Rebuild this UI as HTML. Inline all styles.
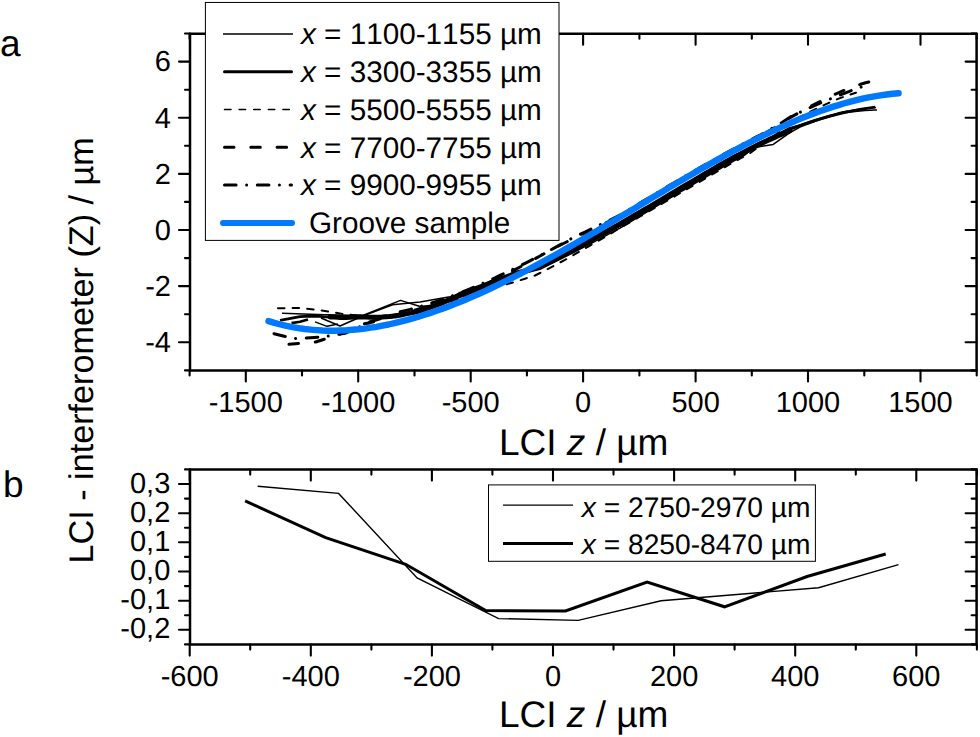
<!DOCTYPE html>
<html><head><meta charset="utf-8"><style>
html,body{margin:0;padding:0;background:#fff;}
svg{display:block;}
.t{stroke-width:2.1px;stroke-linecap:round;}
text{stroke:none;text-rendering:geometricPrecision;font-kerning:none;}
</style></head><body>
<svg width="980" height="737" viewBox="0 0 980 737" font-family="'Liberation Sans', sans-serif">
<g stroke="#000" stroke-width="2.5" fill="#000">
<line x1="189.6" y1="370.5" x2="189.6" y2="375.5" class="t"/>
<line x1="189.6" y1="33.8" x2="189.6" y2="38.8" class="t"/>
<line x1="245.8" y1="370.5" x2="245.8" y2="381.5" class="t"/>
<line x1="245.8" y1="33.8" x2="245.8" y2="44.8" class="t"/>
<text x="245.8" y="412" font-size="29" text-anchor="middle">-1500</text>
<line x1="302.0" y1="370.5" x2="302.0" y2="375.5" class="t"/>
<line x1="302.0" y1="33.8" x2="302.0" y2="38.8" class="t"/>
<line x1="358.2" y1="370.5" x2="358.2" y2="381.5" class="t"/>
<line x1="358.2" y1="33.8" x2="358.2" y2="44.8" class="t"/>
<text x="358.2" y="412" font-size="29" text-anchor="middle">-1000</text>
<line x1="414.5" y1="370.5" x2="414.5" y2="375.5" class="t"/>
<line x1="414.5" y1="33.8" x2="414.5" y2="38.8" class="t"/>
<line x1="470.7" y1="370.5" x2="470.7" y2="381.5" class="t"/>
<line x1="470.7" y1="33.8" x2="470.7" y2="44.8" class="t"/>
<text x="470.7" y="412" font-size="29" text-anchor="middle">-500</text>
<line x1="526.9" y1="370.5" x2="526.9" y2="375.5" class="t"/>
<line x1="526.9" y1="33.8" x2="526.9" y2="38.8" class="t"/>
<line x1="583.1" y1="370.5" x2="583.1" y2="381.5" class="t"/>
<line x1="583.1" y1="33.8" x2="583.1" y2="44.8" class="t"/>
<text x="583.1" y="412" font-size="29" text-anchor="middle">0</text>
<line x1="639.4" y1="370.5" x2="639.4" y2="375.5" class="t"/>
<line x1="639.4" y1="33.8" x2="639.4" y2="38.8" class="t"/>
<line x1="695.6" y1="370.5" x2="695.6" y2="381.5" class="t"/>
<line x1="695.6" y1="33.8" x2="695.6" y2="44.8" class="t"/>
<text x="695.6" y="412" font-size="29" text-anchor="middle">500</text>
<line x1="751.8" y1="370.5" x2="751.8" y2="375.5" class="t"/>
<line x1="751.8" y1="33.8" x2="751.8" y2="38.8" class="t"/>
<line x1="808.0" y1="370.5" x2="808.0" y2="381.5" class="t"/>
<line x1="808.0" y1="33.8" x2="808.0" y2="44.8" class="t"/>
<text x="808.0" y="412" font-size="29" text-anchor="middle">1000</text>
<line x1="864.3" y1="370.5" x2="864.3" y2="375.5" class="t"/>
<line x1="864.3" y1="33.8" x2="864.3" y2="38.8" class="t"/>
<line x1="920.5" y1="370.5" x2="920.5" y2="381.5" class="t"/>
<line x1="920.5" y1="33.8" x2="920.5" y2="44.8" class="t"/>
<text x="920.5" y="412" font-size="29" text-anchor="middle">1500</text>
<line x1="976.7" y1="370.5" x2="976.7" y2="375.5" class="t"/>
<line x1="976.7" y1="33.8" x2="976.7" y2="38.8" class="t"/>
<line x1="185.0" y1="370.4" x2="190.0" y2="370.4" class="t"/>
<line x1="971.6" y1="370.4" x2="976.6" y2="370.4" class="t"/>
<line x1="179.0" y1="342.3" x2="190.0" y2="342.3" class="t"/>
<line x1="965.6" y1="342.3" x2="976.6" y2="342.3" class="t"/>
<text x="171" y="352.1" font-size="29" text-anchor="end">-4</text>
<line x1="185.0" y1="314.2" x2="190.0" y2="314.2" class="t"/>
<line x1="971.6" y1="314.2" x2="976.6" y2="314.2" class="t"/>
<line x1="179.0" y1="286.1" x2="190.0" y2="286.1" class="t"/>
<line x1="965.6" y1="286.1" x2="976.6" y2="286.1" class="t"/>
<text x="171" y="295.9" font-size="29" text-anchor="end">-2</text>
<line x1="185.0" y1="258.1" x2="190.0" y2="258.1" class="t"/>
<line x1="971.6" y1="258.1" x2="976.6" y2="258.1" class="t"/>
<line x1="179.0" y1="230.0" x2="190.0" y2="230.0" class="t"/>
<line x1="965.6" y1="230.0" x2="976.6" y2="230.0" class="t"/>
<text x="171" y="239.8" font-size="29" text-anchor="end">0</text>
<line x1="185.0" y1="201.9" x2="190.0" y2="201.9" class="t"/>
<line x1="971.6" y1="201.9" x2="976.6" y2="201.9" class="t"/>
<line x1="179.0" y1="173.9" x2="190.0" y2="173.9" class="t"/>
<line x1="965.6" y1="173.9" x2="976.6" y2="173.9" class="t"/>
<text x="171" y="183.7" font-size="29" text-anchor="end">2</text>
<line x1="185.0" y1="145.8" x2="190.0" y2="145.8" class="t"/>
<line x1="971.6" y1="145.8" x2="976.6" y2="145.8" class="t"/>
<line x1="179.0" y1="117.7" x2="190.0" y2="117.7" class="t"/>
<line x1="965.6" y1="117.7" x2="976.6" y2="117.7" class="t"/>
<text x="171" y="127.5" font-size="29" text-anchor="end">4</text>
<line x1="185.0" y1="89.7" x2="190.0" y2="89.7" class="t"/>
<line x1="971.6" y1="89.7" x2="976.6" y2="89.7" class="t"/>
<line x1="179.0" y1="61.6" x2="190.0" y2="61.6" class="t"/>
<line x1="965.6" y1="61.6" x2="976.6" y2="61.6" class="t"/>
<text x="171" y="71.4" font-size="29" text-anchor="end">6</text>
<line x1="185.0" y1="33.5" x2="190.0" y2="33.5" class="t"/>
<line x1="971.6" y1="33.5" x2="976.6" y2="33.5" class="t"/>
<rect x="190.0" y="33.8" width="786.6" height="336.7" fill="none" stroke-linejoin="round"/>
<g fill="none" stroke="#000" stroke-linejoin="round">
<path d="M330.0,316.9 L334.0,317.1 L338.0,317.3 L340.0,317.4 L342.0,317.4 L346.0,317.4 L350.0,317.3 L354.0,317.1 L358.0,316.9 L360.0,316.8 L362.0,316.9 L366.0,317.1 L370.0,317.2 L374.0,317.2 L378.0,317.2 L380.0,317.2 L382.0,317.1 L386.0,316.8 L390.0,316.5 L394.0,316.1 L395.0,316.0 L398.0,315.5 L402.0,314.7 L406.0,313.9 L410.0,313.1 L414.0,312.2 L418.0,311.3 L420.0,310.8 L422.0,310.1 L426.0,308.7 L430.0,307.3 L434.0,305.8 L438.0,304.3 L442.0,302.8 L446.0,301.2 L450.0,299.6 L454.0,297.9 L458.0,296.2 L460.0,295.4 L462.0,294.7 L466.0,293.2 L470.0,291.7 L474.0,290.2 L478.0,288.6 L482.0,287.0 L486.0,285.4 L490.0,283.7 L494.0,282.0 L498.0,280.3 L500.0,279.4 L502.0,278.7 L506.0,277.1 L510.0,275.5 L514.0,273.9 L515.0,273.5 L518.0,272.7 L522.0,271.7 L526.0,270.7 L530.0,269.7 L534.0,268.1 L538.0,266.6 L542.0,265.0 L546.0,263.4 L550.0,261.8 L554.0,259.8 L558.0,257.7 L562.0,255.6 L566.0,253.5 L570.0,251.4 L574.0,249.3 L578.0,247.2 L582.0,245.0 L586.0,242.9 L590.0,240.7 L594.0,238.5 L598.0,236.4 L602.0,234.2 L606.0,232.0 L610.0,229.8 L614.0,227.6 L618.0,225.4 L620.0,224.3 L622.0,223.2 L626.0,220.9 L630.0,218.7 L634.0,216.5 L638.0,214.2 L642.0,212.0 L646.0,209.8 L650.0,207.6 L654.0,205.1 L658.0,202.7 L662.0,200.3 L666.0,197.9 L670.0,195.5 L674.0,193.1 L678.0,190.7 L682.0,188.3 L686.0,185.9 L690.0,183.6 L694.0,181.1 L698.0,178.7 L702.0,176.3 L706.0,173.8 L710.0,171.4 L714.0,169.1 L718.0,166.7 L720.0,165.5 L722.0,164.4 L726.0,162.2 L730.0,159.9 L734.0,157.7 L738.0,155.6 L742.0,153.4 L746.0,151.3 L750.0,149.2 L754.0,147.1 L758.0,145.0 L760.0,144.0 L762.0,143.1 L766.0,141.2 L770.0,139.4 L774.0,137.6 L778.0,135.8 L782.0,134.1 L786.0,132.4 L790.0,130.7" stroke-width="5" stroke-linecap="round"/>
<path d="M280.0,320.4 L300.0,316.6 L310.0,316.1 L315.0,316.3 L320.0,316.4 L325.0,316.8 L330.0,317.1 L335.0,317.2 L340.0,317.3 L345.0,317.3 L350.0,317.2 L355.0,316.9 L360.0,316.6 L365.0,317.0 L370.0,317.3 L375.0,317.1 L380.0,316.8 L385.0,316.3 L390.0,315.9 L395.0,315.3 L400.0,314.6 L405.0,313.9 L410.0,313.1 L415.0,312.2 L420.0,311.3 L425.0,309.6 L430.0,307.9 L435.0,306.2 L440.0,304.3 L445.0,302.4 L450.0,300.5 L455.0,298.5 L460.0,296.4 L465.0,294.6 L470.0,292.7 L475.0,290.8 L480.0,288.8 L485.0,286.8 L490.0,284.7 L495.0,282.6 L500.0,280.4 L505.0,278.8 L510.0,277.1 L515.0,275.4 L520.0,273.7 L525.0,271.9 L530.0,270.0 L535.0,268.2 L540.0,266.3 L545.0,263.7 L550.0,261.1 L555.0,258.5 L560.0,255.8 L565.0,253.1 L570.0,250.4 L575.0,247.7 L580.0,245.0 L585.0,242.2 L590.0,239.5 L595.0,236.7 L600.0,233.9 L605.0,231.1 L610.0,228.2 L615.0,225.4 L620.0,222.6 L625.0,219.7 L630.0,216.7 L635.0,213.8 L640.0,210.9 L645.0,208.0 L650.0,205.1 L655.0,202.1 L660.0,199.1 L665.0,196.1 L670.0,193.1 L675.0,190.2 L680.0,187.2 L685.0,184.3 L690.0,181.4 L695.0,178.4 L700.0,175.4 L705.0,172.5 L710.0,169.6 L715.0,166.7 L720.0,163.8 L725.0,161.1 L730.0,158.3 L735.0,155.6 L740.0,153.0 L745.0,150.4 L750.0,147.8 L755.0,145.2 L760.0,142.7 L765.0,140.4 L770.0,138.0 L775.0,135.7 L780.0,133.5 L785.0,131.3 L790.0,129.2 L795.0,127.4 L800.0,125.6 L805.0,123.8 L810.0,122.2 L815.0,120.6 L820.0,119.0 L825.0,117.6 L830.0,116.2 L835.0,114.8 L840.0,113.6 L845.0,112.4 L850.0,111.3 L855.0,110.3 L860.0,109.4 L865.0,108.6 L870.0,107.8 L875.0,107.2" stroke-width="2.8"/>
<path d="M291.5,323.1 L300.0,321.7 L308.0,319.5" stroke-width="2.6"/>
<path d="M282.0,313.3 L325.0,314.8 L362.8,315.5 L400.5,300.4 L420.0,306.5 L440.0,304.6 L445.0,301.6 L450.0,298.6 L455.0,295.5 L460.0,292.4 L465.0,290.6 L470.0,288.8 L475.0,287.0 L480.0,285.1 L485.0,283.1 L490.0,281.1 L495.0,279.0 L500.0,276.9 L505.0,275.9 L510.0,274.7 L515.0,273.6 L520.0,272.4 L525.0,271.2 L530.0,269.9 L535.0,268.6 L540.0,267.3 L545.0,264.9 L550.0,262.4 L555.0,259.9 L560.0,257.4 L565.0,254.9 L570.0,252.4 L575.0,249.8 L580.0,247.2 L585.0,244.6 L590.0,242.0 L595.0,239.4 L600.0,236.7 L605.0,234.1 L610.0,231.4 L615.0,228.7 L620.0,226.1 L625.0,223.1 L630.0,220.1 L635.0,217.1 L640.0,214.1 L645.0,211.1 L650.0,208.1 L655.0,205.1 L660.0,202.1 L665.0,199.1 L670.0,196.1 L675.0,193.2 L680.0,190.2 L685.0,187.3 L690.0,184.4 L695.0,181.5 L700.0,178.6 L705.0,175.7 L710.0,172.9 L715.0,170.1 L720.0,167.3 L725.0,164.6 L730.0,161.8 L735.0,159.1 L740.0,156.5 L745.0,153.9 L753.6,147.6 L773.2,144.4 L790.0,132.6 L800.0,127.0 L805.0,125.1 L810.0,123.2 L815.0,121.4 L820.0,119.7 L825.0,118.1 L830.0,116.5 L835.0,115.0 L840.0,113.6 L845.0,112.8 L850.0,112.1 L855.0,111.5 L860.0,111.0 L865.0,110.5 L870.0,110.2 L875.0,109.9 L877.0,109.9" stroke-width="1.5"/>
<path d="M321.0,318.0 L340.0,326.0 L362.8,316.0 L392.6,304.7 L420.0,301.9 L450.0,296.8 L455.0,295.4 L460.0,293.9 L465.0,292.1 L470.0,290.3 L475.0,288.5 L480.0,286.6 L485.0,284.6 L490.0,282.6 L495.0,280.5 L500.0,278.4 L505.0,277.4 L510.0,276.4 L515.0,275.3 L520.0,274.2 L525.0,273.0 L530.0,271.8 L535.0,270.6 L540.0,269.3 L545.0,266.9 L550.0,264.4 L555.0,261.9 L560.0,259.4 L565.0,256.9 L570.0,254.4 L575.0,251.8 L580.0,249.2 L585.0,246.6 L590.0,244.0 L595.0,241.4 L600.0,238.7 L605.0,236.1 L610.0,233.4 L615.0,230.7 L620.0,228.1 L625.0,225.1 L630.0,222.1 L635.0,219.1 L640.0,216.1 L645.0,213.1 L650.0,210.1 L655.0,207.1 L660.0,204.1 L665.0,201.1 L670.0,198.1 L675.0,195.2 L680.0,192.2 L685.0,189.3 L690.0,186.4 L695.0,183.4 L700.0,180.4 L705.0,177.5 L710.0,174.5 L715.0,171.6 L720.0,168.8 L725.0,165.9 L730.0,163.1 L735.0,160.3 L740.0,157.6 L745.0,154.9 L753.6,147.6 L788.9,128.0 L800.0,125.0 L805.0,123.2 L810.0,121.5 L815.0,119.8 L820.0,118.2 L825.0,116.7 L830.0,115.3 L835.0,113.9 L840.0,112.6 L845.0,111.6 L850.0,110.7 L855.0,109.9 L860.0,109.2 L865.0,108.6 L870.0,108.1 L875.0,107.6 L876.0,107.5" stroke-width="1.5"/>
<path d="M315.0,321.9 L327.0,326.3 L338.0,324.0" stroke-width="1.4"/>
<path d="M278.0,308.3 L300.0,308.0 L320.0,310.2 L345.0,314.3 L370.0,316.8 L375.0,316.5 L380.0,316.2 L385.0,315.7 L390.0,315.2 L395.0,314.5 L400.0,313.8 L405.0,313.0 L410.0,312.2 L415.0,311.3 L420.0,310.3 L425.0,309.1 L430.0,307.8 L435.0,306.5 L440.0,305.1 L445.0,303.6 L450.0,302.1 L455.0,300.5 L460.0,298.9 L465.0,297.3 L470.0,295.7 L475.0,294.0 L480.0,292.3 L485.0,290.5 L490.0,288.7 L495.0,287.4 L500.0,286.1 L504.0,285.0 L505.0,284.7 L510.0,283.3 L515.0,281.8 L520.0,280.3 L525.0,278.7 L530.0,277.1 L535.0,275.5 L540.0,273.0 L545.0,270.4 L550.0,267.8 L555.0,265.2 L560.0,262.5 L565.0,259.9 L570.0,257.1 L575.0,254.2 L580.0,251.4 L585.0,248.5 L590.0,245.6 L595.0,242.7 L600.0,239.8 L605.0,236.9 L610.0,234.0 L615.0,231.0 L620.0,228.1 L625.0,225.2 L630.0,222.3 L635.0,219.4 L640.0,216.5 L645.0,213.6 L650.0,210.7 L655.0,207.8 L660.0,204.9 L665.0,202.0 L670.0,199.1 L675.0,196.2 L680.0,193.2 L685.0,190.3 L690.0,187.4 L695.0,184.5 L700.0,181.6 L705.0,178.6 L710.0,175.7 L715.0,172.8 L720.0,169.9 L725.0,167.1 L730.0,164.2 L735.0,161.4 L740.0,158.7 L745.0,156.0 L750.0,153.3 L755.0,149.5 L760.0,145.8 L765.0,142.2 L770.0,138.6 L775.0,135.0 L780.0,131.3 L785.0,127.6 L790.0,124.0 L795.0,120.5 L800.0,117.0 L805.0,114.4 L810.0,111.8 L815.0,109.4 L820.0,107.0 L825.0,104.6 L830.0,102.4 L835.0,100.2 L840.0,98.1 L845.0,96.3 L850.0,94.6 L855.0,93.0 L856.0,92.7" stroke-width="2" stroke-dasharray="6.5 8.1" stroke-linecap="round"/>
<path d="M289.0,344.3 L305.7,342.8 L315.7,342.0 L325.0,339.0 L338.5,334.8 L360.5,324.5 L365.5,323.6 L369.5,322.9 L370.5,322.6 L375.5,321.4 L380.5,320.0 L385.5,318.5 L390.5,317.0 L395.5,315.4 L400.0,313.8 L400.5,313.7 L405.5,312.5 L410.5,311.2 L415.5,309.9 L420.5,308.4 L425.5,307.0 L430.5,305.4 L435.5,303.8 L440.5,302.1 L445.5,300.3 L450.5,298.5 L455.5,296.6 L460.0,294.9 L460.5,294.7 L465.5,292.7 L470.5,290.6 L475.5,288.5 L480.5,286.3 L485.5,284.1 L490.5,281.9 L495.5,279.6 L500.0,277.4 L500.5,277.2 L505.5,274.6 L510.5,272.0 L515.5,269.4 L520.5,266.7 L522.0,265.9 L525.5,264.0 L530.5,261.2 L535.5,258.5 L540.5,255.7 L545.5,252.9 L550.5,250.0 L551.0,249.7 L555.5,247.5 L560.5,245.0 L565.5,242.5 L570.5,240.0 L574.0,238.2 L575.5,237.5 L580.5,235.1 L585.5,232.8 L590.5,230.4 L595.5,228.0 L600.5,225.6 L605.5,223.1 L610.5,220.7 L615.5,218.3 L620.0,216.1 L620.5,215.8 L625.5,212.8 L630.5,209.8 L635.5,206.8 L640.5,203.8 L645.5,200.8 L650.5,197.8 L655.5,194.8 L660.5,191.8 L665.5,188.8 L670.5,185.8 L675.5,182.9 L680.5,179.9 L685.5,177.0 L690.5,174.1 L695.5,171.2 L700.5,168.3 L705.5,165.5 L710.5,162.6 L715.5,159.8 L720.5,157.0 L725.5,154.3 L730.5,151.6 L735.5,148.9 L740.5,146.2 L745.5,143.6 L750.5,141.0 L755.5,138.5 L760.0,136.2 L760.5,135.9 L765.5,133.0 L770.5,130.1 L775.5,127.2 L780.0,124.7 L780.5,124.3 L785.5,120.8 L790.0,117.7 L790.5,117.4 L795.5,114.6 L800.5,111.8 L805.5,109.1 L810.5,106.4 L815.5,103.8 L820.5,101.3 L825.5,98.8 L830.5,96.4 L835.5,94.1 L840.0,92.1 L840.5,91.9 L845.5,89.8 L850.5,87.8 L855.5,85.9 L856.0,85.7 L860.5,84.3 L865.5,82.8 L869.3,81.8" stroke-width="3" stroke-dasharray="9.5 16.8" stroke-linecap="round"/>
<path d="M274.0,333.7 L288.5,337.2 L297.0,338.7 L320.0,337.0 L329.8,335.9 L345.0,333.3 L350.0,331.2 L355.0,329.0 L360.0,326.7 L365.0,324.3 L370.0,321.8 L375.0,320.4 L380.0,318.8 L385.0,317.2 L390.0,315.5 L395.0,313.7 L400.0,311.8 L405.0,310.6 L410.0,309.4 L415.0,308.0 L420.0,306.6 L425.0,305.1 L430.0,303.5 L435.0,301.9 L440.0,300.2 L445.0,298.5 L450.0,296.7 L455.0,294.8 L460.0,292.9 L465.0,290.9 L470.0,288.8 L475.0,286.7 L480.0,284.6 L485.0,282.3 L490.0,280.1 L495.0,277.8 L500.0,275.4 L505.0,273.1 L510.0,270.7 L515.0,268.3 L520.0,265.9 L522.0,264.9 L525.0,263.4 L530.0,260.8 L535.0,258.2 L540.0,255.6 L545.0,253.0 L550.0,250.3 L555.0,247.6 L560.0,244.9 L565.0,242.2 L570.0,239.4 L574.0,237.2 L575.0,236.7 L580.0,234.4 L585.0,232.0 L590.0,229.6 L595.0,227.2 L600.0,224.8 L605.0,222.4 L610.0,220.0 L615.0,217.5 L620.0,215.1 L625.0,212.1 L630.0,209.1 L635.0,206.1 L640.0,203.1 L645.0,200.1 L650.0,197.1 L655.0,194.1 L660.0,191.1 L665.0,188.1 L670.0,185.1 L675.0,182.2 L680.0,179.2 L685.0,176.3 L690.0,173.4 L695.0,170.5 L700.0,167.6 L705.0,164.7 L710.0,161.9 L715.0,159.1 L720.0,156.3 L725.0,153.6 L730.0,150.8 L735.0,148.1 L740.0,145.5 L745.0,142.9 L750.0,140.3 L755.0,137.7 L760.0,135.2 L765.0,132.3 L770.0,129.4 L775.0,126.5 L780.0,123.7 L785.0,120.4 L790.0,117.2 L795.0,114.7 L800.0,112.3 L805.0,109.9 L810.0,107.6 L815.0,105.3 L820.0,103.1 L825.0,101.0 L830.0,99.0 L835.0,97.0 L840.0,95.1 L845.0,93.1 L850.0,91.1 L855.0,89.2 L860.0,87.5 L865.0,85.8 L866.0,85.4" stroke-width="3" stroke-dasharray="11.6 10.5 0.01 10.7" stroke-linecap="round"/>
</g>
<path d="M268.5,321.1 L274.5,322.9 L280.5,324.5 L286.5,325.9 L292.5,327.1 L298.5,328.1 L304.5,329.0 L310.5,329.6 L316.5,330.1 L322.5,330.5 L328.5,330.7 L334.5,330.7 L340.5,330.5 L346.5,330.3 L352.5,329.8 L358.5,329.3 L364.5,328.6 L370.5,327.7 L376.5,326.8 L382.5,325.7 L388.5,324.5 L394.5,323.1 L400.5,321.7 L406.5,320.2 L412.5,318.5 L418.5,316.7 L424.5,314.8 L430.5,312.9 L436.5,310.8 L442.5,308.7 L448.5,306.4 L454.5,304.1 L460.5,301.7 L466.5,299.2 L472.5,296.6 L478.5,294.0 L484.5,291.3 L490.5,288.5 L496.5,285.6 L502.5,282.7 L508.5,279.7 L514.5,276.7 L520.5,273.6 L526.5,270.5 L532.5,267.3 L538.5,264.1 L544.5,260.8 L550.5,257.5 L556.5,254.2 L562.5,250.8 L568.5,247.4 L574.5,243.9 L580.5,240.4 L586.5,236.9 L592.5,233.4 L598.5,229.9 L604.5,226.3 L610.5,222.7 L616.5,219.2 L622.5,215.6 L628.5,212.0 L634.5,208.4 L640.5,204.8 L646.5,201.2 L652.5,197.6 L658.5,194.0 L664.5,190.4 L670.5,186.8 L676.5,183.3 L682.5,179.8 L688.5,176.3 L694.5,172.8 L700.5,169.3 L706.5,165.9 L712.5,162.5 L718.5,159.1 L724.5,155.8 L730.5,152.6 L736.5,149.3 L742.5,146.2 L748.5,143.1 L754.5,140.0 L760.5,137.0 L766.5,134.0 L772.5,131.2 L778.5,128.4 L784.5,125.6 L790.5,123.0 L796.5,120.4 L802.5,117.9 L808.5,115.5 L814.5,113.2 L820.5,111.0 L826.5,108.9 L832.5,106.9 L838.5,105.1 L844.5,103.3 L850.5,101.6 L856.5,100.1 L862.5,98.7 L868.5,97.4 L874.5,96.3 L880.5,95.3 L886.5,94.5 L892.5,93.8 L898.5,93.2 L898.6,93.2" fill="none" stroke="#0079ff" stroke-width="6.4" stroke-linecap="round" stroke-linejoin="round"/>
<rect x="205.4" y="2.45" width="353.6" height="237.95" fill="#fff" stroke="#000" stroke-width="1"/>
<line x1="223" y1="33.9" x2="293" y2="33.9" stroke="#000" stroke-width="1.5"/>
<text x="301" y="44.1" font-size="29.7"><tspan font-style="italic">x</tspan> = 1100-1155 µm</text>
<line x1="224.5" y1="71.7" x2="291.5" y2="71.7" stroke="#000" stroke-width="3" stroke-linecap="round"/>
<text x="301" y="81.9" font-size="29.7"><tspan font-style="italic">x</tspan> = 3300-3355 µm</text>
<line x1="224.5" y1="109.5" x2="291.5" y2="109.5" stroke="#000" stroke-width="1.5" stroke-dasharray="6.5 8.1" stroke-linecap="round"/>
<text x="301" y="119.7" font-size="29.7"><tspan font-style="italic">x</tspan> = 5500-5555 µm</text>
<line x1="224.5" y1="147.3" x2="291.5" y2="147.3" stroke="#000" stroke-width="3" stroke-dasharray="9.5 16.8" stroke-linecap="round"/>
<text x="301" y="157.5" font-size="29.7"><tspan font-style="italic">x</tspan> = 7700-7755 µm</text>
<line x1="224.5" y1="185.1" x2="291.5" y2="185.1" stroke="#000" stroke-width="3" stroke-dasharray="11.6 10.5 0.01 10.7" stroke-linecap="round"/>
<text x="301" y="195.3" font-size="29.7"><tspan font-style="italic">x</tspan> = 9900-9955 µm</text>
<line x1="223" y1="222.9" x2="292" y2="222.9" stroke="#0079ff" stroke-width="6" stroke-linecap="round"/>
<text x="309" y="233.1" font-size="29.7">Groove sample</text>
<text x="499" y="455" font-size="37"><tspan>LCI </tspan><tspan font-style="italic">z</tspan><tspan> / µm</tspan></text>
<line x1="189.7" y1="644.6" x2="189.7" y2="655.6" class="t"/>
<line x1="189.7" y1="469.6" x2="189.7" y2="480.6" class="t"/>
<text x="189.7" y="686" font-size="29" text-anchor="middle">-600</text>
<line x1="250.2" y1="644.6" x2="250.2" y2="649.6" class="t"/>
<line x1="250.2" y1="469.6" x2="250.2" y2="474.6" class="t"/>
<line x1="310.8" y1="644.6" x2="310.8" y2="655.6" class="t"/>
<line x1="310.8" y1="469.6" x2="310.8" y2="480.6" class="t"/>
<text x="310.8" y="686" font-size="29" text-anchor="middle">-400</text>
<line x1="371.4" y1="644.6" x2="371.4" y2="649.6" class="t"/>
<line x1="371.4" y1="469.6" x2="371.4" y2="474.6" class="t"/>
<line x1="431.9" y1="644.6" x2="431.9" y2="655.6" class="t"/>
<line x1="431.9" y1="469.6" x2="431.9" y2="480.6" class="t"/>
<text x="431.9" y="686" font-size="29" text-anchor="middle">-200</text>
<line x1="492.4" y1="644.6" x2="492.4" y2="649.6" class="t"/>
<line x1="492.4" y1="469.6" x2="492.4" y2="474.6" class="t"/>
<line x1="553.0" y1="644.6" x2="553.0" y2="655.6" class="t"/>
<line x1="553.0" y1="469.6" x2="553.0" y2="480.6" class="t"/>
<text x="553.0" y="686" font-size="29" text-anchor="middle">0</text>
<line x1="613.5" y1="644.6" x2="613.5" y2="649.6" class="t"/>
<line x1="613.5" y1="469.6" x2="613.5" y2="474.6" class="t"/>
<line x1="674.1" y1="644.6" x2="674.1" y2="655.6" class="t"/>
<line x1="674.1" y1="469.6" x2="674.1" y2="480.6" class="t"/>
<text x="674.1" y="686" font-size="29" text-anchor="middle">200</text>
<line x1="734.6" y1="644.6" x2="734.6" y2="649.6" class="t"/>
<line x1="734.6" y1="469.6" x2="734.6" y2="474.6" class="t"/>
<line x1="795.2" y1="644.6" x2="795.2" y2="655.6" class="t"/>
<line x1="795.2" y1="469.6" x2="795.2" y2="480.6" class="t"/>
<text x="795.2" y="686" font-size="29" text-anchor="middle">400</text>
<line x1="855.8" y1="644.6" x2="855.8" y2="649.6" class="t"/>
<line x1="855.8" y1="469.6" x2="855.8" y2="474.6" class="t"/>
<line x1="916.3" y1="644.6" x2="916.3" y2="655.6" class="t"/>
<line x1="916.3" y1="469.6" x2="916.3" y2="480.6" class="t"/>
<text x="916.3" y="686" font-size="29" text-anchor="middle">600</text>
<line x1="976.9" y1="644.6" x2="976.9" y2="649.6" class="t"/>
<line x1="976.9" y1="469.6" x2="976.9" y2="474.6" class="t"/>
<line x1="185.0" y1="644.4" x2="190.0" y2="644.4" class="t"/>
<line x1="971.6" y1="644.4" x2="976.6" y2="644.4" class="t"/>
<line x1="179.0" y1="629.8" x2="190.0" y2="629.8" class="t"/>
<line x1="965.6" y1="629.8" x2="976.6" y2="629.8" class="t"/>
<text x="170.3" y="638.3" font-size="29" text-anchor="end">-0,2</text>
<line x1="185.0" y1="615.3" x2="190.0" y2="615.3" class="t"/>
<line x1="971.6" y1="615.3" x2="976.6" y2="615.3" class="t"/>
<line x1="179.0" y1="600.7" x2="190.0" y2="600.7" class="t"/>
<line x1="965.6" y1="600.7" x2="976.6" y2="600.7" class="t"/>
<text x="170.3" y="609.2" font-size="29" text-anchor="end">-0,1</text>
<line x1="185.0" y1="586.1" x2="190.0" y2="586.1" class="t"/>
<line x1="971.6" y1="586.1" x2="976.6" y2="586.1" class="t"/>
<line x1="179.0" y1="571.5" x2="190.0" y2="571.5" class="t"/>
<line x1="965.6" y1="571.5" x2="976.6" y2="571.5" class="t"/>
<text x="170.3" y="580.0" font-size="29" text-anchor="end">0,0</text>
<line x1="185.0" y1="556.9" x2="190.0" y2="556.9" class="t"/>
<line x1="971.6" y1="556.9" x2="976.6" y2="556.9" class="t"/>
<line x1="179.0" y1="542.3" x2="190.0" y2="542.3" class="t"/>
<line x1="965.6" y1="542.3" x2="976.6" y2="542.3" class="t"/>
<text x="170.3" y="550.8" font-size="29" text-anchor="end">0,1</text>
<line x1="185.0" y1="527.7" x2="190.0" y2="527.7" class="t"/>
<line x1="971.6" y1="527.7" x2="976.6" y2="527.7" class="t"/>
<line x1="179.0" y1="513.2" x2="190.0" y2="513.2" class="t"/>
<line x1="965.6" y1="513.2" x2="976.6" y2="513.2" class="t"/>
<text x="170.3" y="521.7" font-size="29" text-anchor="end">0,2</text>
<line x1="185.0" y1="498.6" x2="190.0" y2="498.6" class="t"/>
<line x1="971.6" y1="498.6" x2="976.6" y2="498.6" class="t"/>
<line x1="179.0" y1="484.0" x2="190.0" y2="484.0" class="t"/>
<line x1="965.6" y1="484.0" x2="976.6" y2="484.0" class="t"/>
<text x="170.3" y="492.5" font-size="29" text-anchor="end">0,3</text>
<line x1="185.0" y1="469.4" x2="190.0" y2="469.4" class="t"/>
<line x1="971.6" y1="469.4" x2="976.6" y2="469.4" class="t"/>
<rect x="190.0" y="469.6" width="786.6" height="175.0" fill="none" stroke-linejoin="round"/>
<path d="M257.7,486.3 L338.6,493.4 L417.1,578.0 L498.6,618.6 L578.2,620.4 L661.1,600.7 L818.6,587.7 L898.5,564.7" fill="none" stroke="#000" stroke-width="1.4"/>
<path d="M245.1,500.9 L325.7,537.7 L405.7,564.3 L485.7,610.6 L565.5,610.9 L647.1,582.1 L724.5,606.8 L807.1,576.5 L885.7,554.0" fill="none" stroke="#000" stroke-width="3"/>
<rect x="488.5" y="484.9" width="326.9" height="76.4" fill="#fff" stroke="#000" stroke-width="1"/>
<line x1="503" y1="505.1" x2="573" y2="505.1" stroke="#000" stroke-width="1.4"/>
<line x1="503" y1="543.4" x2="573" y2="543.4" stroke="#000" stroke-width="3"/>
<text x="581.8" y="516.5" font-size="28.2"><tspan font-style="italic">x</tspan> = 2750-2970 µm</text>
<text x="581.8" y="554" font-size="28.2"><tspan font-style="italic">x</tspan> = 8250-8470 µm</text>
<text x="499" y="727" font-size="37"><tspan>LCI </tspan><tspan font-style="italic">z</tspan><tspan> / µm</tspan></text>
<text transform="translate(93,563.5) rotate(-90)" font-size="34.2">LCI - interferometer (Z) / µm</text>
<text x="0" y="56" font-size="37">a</text>
<text x="3" y="497" font-size="37">b</text>
</g>
</svg>
</body></html>
